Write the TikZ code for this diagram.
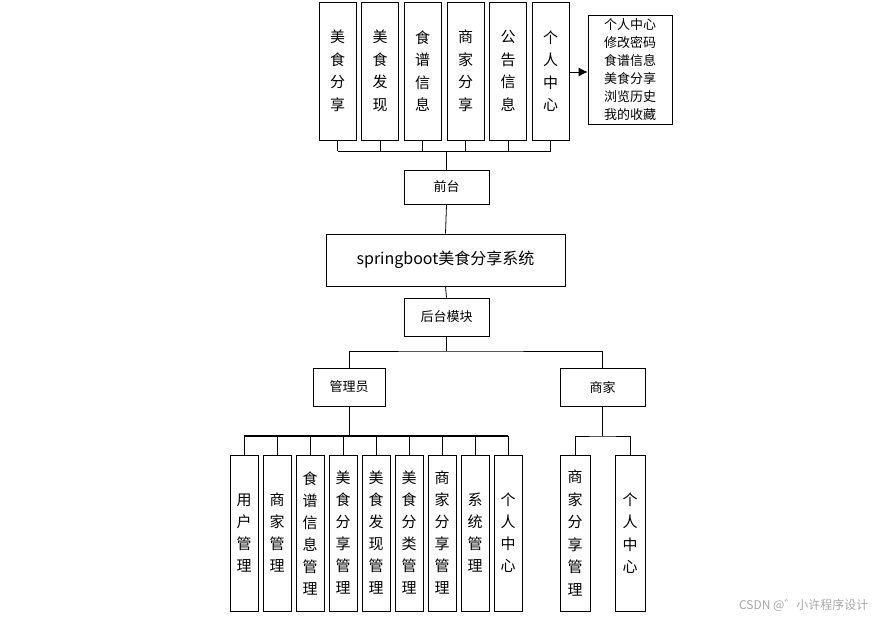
\documentclass[tikz,border=0pt]{standalone}
\usepackage{fontspec}
\usetikzlibrary{arrows.meta}
\setmainfont{Noto Sans CJK SC}
\begin{document}
\begin{tikzpicture}[x=1pt,y=-1pt,
  bx/.style={draw,line width=0.8pt,inner sep=0pt},
  ln/.style={line width=0.8pt},
  vt/.style={font=\fontsize{15}{22.5}\selectfont,align=center}]
\useasboundingbox (0,0) rectangle (874,620);
% top boxes
\foreach \n/\x/\t in {t1/337.5/{美\\食\\分\\享},t2/380/{美\\食\\发\\现},t3/422.5/{食\\谱\\信\\息},t4/465.5/{商\\家\\分\\享},t5/508/{公\\告\\信\\息},t6/550.5/{个\\人\\中\\心}}{
  \node[bx,minimum width=37pt,minimum height=138pt] (\n) at (\x,71) {};
  \node[vt] at (\x,71) {\t};
}
\node[bx,minimum width=84pt,minimum height=109pt,align=left,font=\fontsize{13}{18}\selectfont] (info) at (630,69.5) {个人中心\\修改密码\\食谱信息\\美食分享\\浏览历史\\我的收藏};
\draw[ln,-{Latex[length=9pt,width=9pt]}] (t6.east|-0,72) -- (info.west|-0,72);
\node[bx,minimum width=85pt,minimum height=34pt,font=\fontsize{13}{15}\selectfont] (qt) at (446.5,187) {前台};
\coordinate (bt) at (446.5,151);
\foreach \n in {t1,t2,t3,t4,t5,t6}{\draw[ln] (\n.south) -- (\n.south|-bt);}
\draw[ln] (t1.south|-bt) -- (t6.south|-bt);
\draw[ln] (bt) -- (qt.north);
\node[bx,minimum width=239pt,minimum height=52pt,font=\fontsize{16}{18}\selectfont] (sys) at (445.5,260) {springboot美食分享系统};
\draw[ln] (qt.south) -- (sys.north);
\node[bx,minimum width=85pt,minimum height=38pt,font=\fontsize{13}{15}\selectfont] (ht) at (446.5,317) {后台模块};
\draw[ln] (sys.south) -- (ht.north);
\node[bx,minimum width=72pt,minimum height=38pt,font=\fontsize{13}{15}\selectfont] (gly) at (349,387) {管理员};
\node[bx,minimum width=85pt,minimum height=38pt,font=\fontsize{13}{15}\selectfont] (sj) at (602.5,387) {商家};
\coordinate (hb) at (446.5,351);
\draw[ln] (ht.south) -- (hb);
\draw[ln] (gly.north) |- (hb) -| (sj.north);
% bottom boxes
\foreach \n/\x/\t in {b1/244/{用\\户\\管\\理},b2/277/{商\\家\\管\\理},b3/310/{食\\谱\\信\\息\\管\\理},b4/343/{美\\食\\分\\享\\管\\理},b5/376/{美\\食\\发\\现\\管\\理},b6/409/{美\\食\\分\\类\\管\\理},b7/442/{商\\家\\分\\享\\管\\理},b8/475/{系\\统\\管\\理},b9/508/{个\\人\\中\\心}}{
  \node[bx,minimum width=28pt,minimum height=156pt] (\n) at (\x,533) {};
  \node[vt,font=\fontsize{15}{22}\selectfont] at (\x,533) {\t};
}
\coordinate (gb) at (349,436);
\draw[ln] (gly.south) -- (gb);
\foreach \n in {b1,b2,b3,b4,b5,b6,b7,b8,b9}{\draw[ln] (\n.north) -- (\n.north|-gb);}
\draw[line width=1.3pt] (b1.north|-gb) -- (b9.north|-gb);
\node[bx,minimum width=30pt,minimum height=156pt] (s1) at (575,533) {};
\node[vt] at (575,533) {商\\家\\分\\享\\管\\理};
\node[bx,minimum width=30pt,minimum height=156pt] (s2) at (630,533) {};
\node[vt] at (630,533) {个\\人\\中\\心};
\coordinate (sb) at (602.5,436);
\draw[ln] (sj.south) -- (sb);
\draw[ln] (s1.north) |- (sb) -| (s2.north);
\node[text=gray!70,font=\fontsize{12}{14}\selectfont,anchor=east] at (872,605) {CSDN @゛小许程序设计};
\end{tikzpicture}
\end{document}
